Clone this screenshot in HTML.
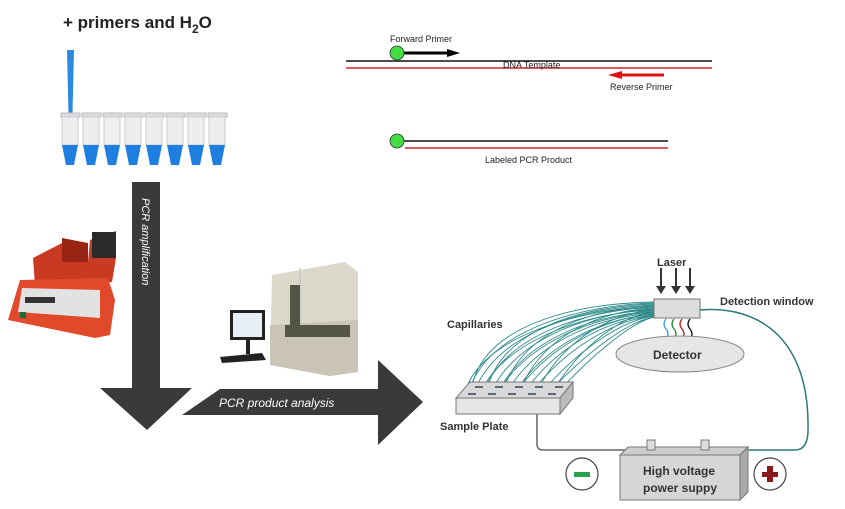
<!DOCTYPE html>
<html><head><style>
body{margin:0;background:#fff;width:845px;height:509px;overflow:hidden}
svg{display:block}
text{font-family:"Liberation Sans",sans-serif}
</style></head><body>
<svg width="845" height="509" viewBox="0 0 845 509">
<!-- title -->
<text x="63" y="28" font-size="17" font-weight="bold" fill="#222">+ primers and H<tspan font-size="12" dy="5">2</tspan><tspan dy="-5">O</tspan></text>
<!-- pipette -->
<polygon points="67,50 74,50 72,135 69,135" fill="#2a8ae0"/>
<!-- tubes -->
<g id="t"><rect x="61" y="113" width="19" height="4" fill="#ddd" stroke="#bbb"/><rect x="62" y="117" width="16" height="28" fill="#eee" stroke="#ccc"/><polygon points="62,145 78,145 74,165 66,165" fill="#1e7fe0"/></g>
<use href="#t" x="21"/><use href="#t" x="42"/><use href="#t" x="63"/><use href="#t" x="84"/><use href="#t" x="105"/><use href="#t" x="126"/><use href="#t" x="147"/>

<!-- DNA -->
<text x="390" y="42" font-size="9" fill="#222">Forward Primer</text>
<line x1="346" y1="61" x2="712" y2="61" stroke="#111" stroke-width="1.5"/>
<line x1="346" y1="68" x2="712" y2="68" stroke="#d8202a" stroke-width="1.5"/>
<line x1="403" y1="53" x2="450" y2="53" stroke="#000" stroke-width="3"/>
<polygon points="447,49 460,53 447,57" fill="#000"/>
<circle cx="397" cy="53" r="7" fill="#44dd44" stroke="#333" stroke-width="0.8"/>
<text x="503" y="68" font-size="9" fill="#222">DNA Template</text>
<line x1="620" y1="75" x2="664" y2="75" stroke="#e01010" stroke-width="3"/>
<polygon points="622,71 608,75 622,79" fill="#e01010"/>
<text x="610" y="90" font-size="9" fill="#222">Reverse Primer</text>
<line x1="403" y1="141" x2="668" y2="141" stroke="#111" stroke-width="1.5"/>
<line x1="405" y1="148" x2="668" y2="148" stroke="#d8202a" stroke-width="1.5"/>
<circle cx="397" cy="141" r="7" fill="#44dd44" stroke="#333" stroke-width="0.8"/>
<text x="485" y="163" font-size="9" fill="#222">Labeled PCR Product</text>

<!-- big arrows -->
<polygon points="132,182 160,182 160,388 192,388 147,430 100,388 132,388" fill="#3a3a3a"/>
<text transform="translate(142,198) rotate(90)" font-size="11" font-style="italic" fill="#fff">PCR amplification</text>
<polygon points="220,389 378,389 378,360 423,402 378,445 378,415 182,415" fill="#3a3a3a"/>
<text x="219" y="407" font-size="12" font-style="italic" fill="#fff">PCR product analysis</text>

<!-- thermocycler -->
<polygon points="33,258 62,243 62,262 88,262 90,240 116,231 116,258 112,282 35,285" fill="#c83a22"/>
<polygon points="62,238 88,243 88,262 62,262" fill="#9a2414"/>
<rect x="92" y="232" width="24" height="26" fill="#2a2a2a"/>
<polygon points="20,280 108,278 115,300 110,335 95,338 8,320" fill="#e04a2a"/>
<polygon points="22,288 100,290 100,318 18,312" fill="#e2e2e2"/>
<rect x="25" y="297" width="30" height="6" fill="#333"/>
<rect x="20" y="312" width="6" height="6" fill="#1a6a3a"/>

<!-- analyzer -->
<polygon points="272,275 345,262 358,272 358,372 330,376 270,365" fill="#dcd8cc"/>
<polygon points="270,325 358,320 358,372 330,376 270,365" fill="#c9c4b6"/>
<line x1="300" y1="268" x2="300" y2="325" stroke="#bbb"/>
<rect x="290" y="285" width="10" height="40" fill="#554"/>
<rect x="285" y="325" width="65" height="12" fill="#554"/>
<rect x="230" y="310" width="35" height="30" fill="#222"/>
<rect x="233" y="313" width="29" height="24" fill="#e8eef5"/>
<rect x="246" y="340" width="4" height="14" fill="#222"/>
<polygon points="220,357 262,353 266,360 222,363" fill="#222"/>

<!-- capillaries -->
<g fill="none" stroke="#2e8a8a" stroke-width="0.9">
<path d="M470,388 C490,330 580,305 655,303"/><path d="M475,390 C500,330 585,308 655,305"/>
<path d="M485,388 C510,332 590,310 655,307"/><path d="M492,390 C520,335 595,312 655,309"/>
<path d="M500,388 C530,336 600,314 655,311"/><path d="M508,390 C540,338 605,316 655,313"/>
<path d="M518,388 C550,340 610,317 655,314"/><path d="M526,390 C560,342 615,318 655,315"/>
<path d="M535,388 C570,345 620,318 655,316"/><path d="M544,390 C580,348 625,319 655,316"/>
<path d="M553,388 C590,350 630,320 655,317"/><path d="M560,390 C595,352 635,320 655,317"/>
<path d="M465,392 C480,340 570,310 655,306"/><path d="M480,394 C500,345 580,312 655,310"/>
<path d="M498,394 C520,348 590,315 655,312"/><path d="M515,394 C545,350 600,318 655,314"/>
<path d="M472,386 C485,325 575,303 655,302"/><path d="M488,386 C505,328 585,306 655,304"/>
<path d="M505,386 C525,330 595,308 655,306"/><path d="M522,386 C545,333 605,310 655,308"/>
<path d="M540,386 C565,338 615,312 655,310"/><path d="M556,386 C585,342 625,314 655,312"/>
</g>
<!-- plate -->
<polygon points="470,382 573,382 560,398 456,398" fill="#d8d8d8" stroke="#777"/>
<g stroke="#345" stroke-width="1.5">
<line x1="468" y1="394" x2="476" y2="394"/><line x1="488" y1="394" x2="496" y2="394"/><line x1="508" y1="394" x2="516" y2="394"/><line x1="528" y1="394" x2="536" y2="394"/><line x1="548" y1="394" x2="556" y2="394"/>
<line x1="475" y1="387" x2="483" y2="387"/><line x1="495" y1="387" x2="503" y2="387"/><line x1="515" y1="387" x2="523" y2="387"/><line x1="535" y1="387" x2="543" y2="387"/><line x1="555" y1="387" x2="563" y2="387"/>
</g>
<polygon points="456,398 560,398 560,414 456,414" fill="#e6e6e6" stroke="#777"/>
<polygon points="560,398 573,382 573,398 560,414" fill="#bbb" stroke="#777"/>
<!-- detection window -->
<rect x="654" y="299" width="46" height="19" fill="#ddd" stroke="#777"/>
<g stroke="#333" stroke-width="2"><line x1="661" y1="268" x2="661" y2="287"/><line x1="676" y1="268" x2="676" y2="287"/><line x1="690" y1="268" x2="690" y2="287"/></g>
<g fill="#333"><polygon points="656,286 666,286 661,294"/><polygon points="671,286 681,286 676,294"/><polygon points="685,286 695,286 690,294"/></g>
<text x="657" y="266" font-size="11" font-weight="bold" fill="#333">Laser</text>
<text x="720" y="305" font-size="11" font-weight="bold" fill="#333">Detection window</text>
<g fill="none" stroke-width="1.3">
<path d="M666,319 q-4,5 0,10 q4,5 0,10" stroke="#3aa0e0"/><path d="M674,319 q-4,5 0,10 q4,5 0,10" stroke="#2a8a3a"/>
<path d="M682,319 q-4,5 0,10 q4,5 0,10" stroke="#c02020"/><path d="M690,319 q-4,5 0,10 q4,5 0,10" stroke="#111"/>
</g>
<ellipse cx="680" cy="354" rx="64" ry="18" fill="#e6e6e6" stroke="#888"/>
<text x="653" y="359" font-size="12" font-weight="bold" fill="#333">Detector</text>
<text x="447" y="328" font-size="11" font-weight="bold" fill="#333">Capillaries</text>
<text x="440" y="430" font-size="11" font-weight="bold" fill="#333">Sample Plate</text>
<!-- wires -->
<path d="M537,414 V444 Q537,450 543,450 H650" fill="none" stroke="#666" stroke-width="1.5"/>
<path d="M700,310 C760,305 810,340 808,430 Q808,450 795,450 H705" fill="none" stroke="#2e7a7a" stroke-width="1.5"/>
<!-- power supply -->
<polygon points="620,455 628,447 748,447 740,455" fill="#ccc" stroke="#777"/>
<rect x="620" y="455" width="120" height="45" fill="#d6d6d6" stroke="#777"/>
<polygon points="740,455 748,447 748,492 740,500" fill="#aaa" stroke="#777"/>
<rect x="647" y="440" width="8" height="10" fill="#ddd" stroke="#777"/>
<rect x="701" y="440" width="8" height="10" fill="#ddd" stroke="#777"/>
<text x="643" y="475" font-size="12" font-weight="bold" fill="#333">High voltage</text>
<text x="643" y="492" font-size="12" font-weight="bold" fill="#333">power suppy</text>
<circle cx="582" cy="474" r="16" fill="#fff" stroke="#444" stroke-width="1.2"/>
<rect x="574" y="472" width="16" height="5" fill="#2aa050"/>
<circle cx="770" cy="474" r="16" fill="#fff" stroke="#444" stroke-width="1.2"/>
<rect x="762" y="472" width="16" height="5" fill="#8a1a1a"/><rect x="767" y="466" width="6" height="16" fill="#8a1a1a"/>
</svg>
</body></html>
